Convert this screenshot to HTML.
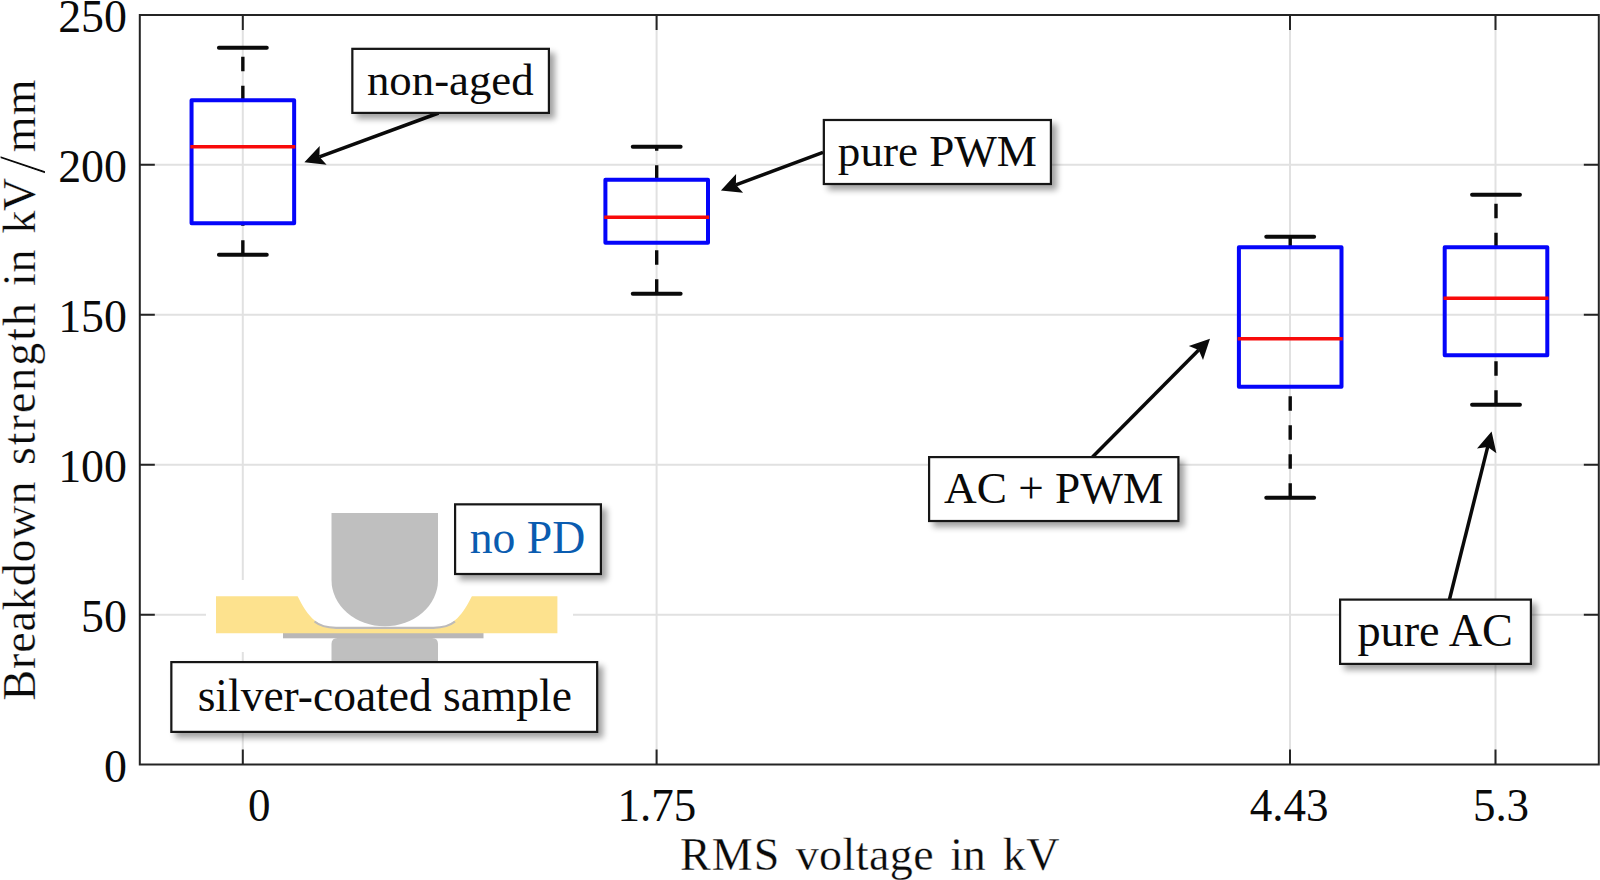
<!DOCTYPE html>
<html lang="en"><head><meta charset="utf-8"><title>Breakdown strength box plot</title>
<style>
html,body{margin:0;padding:0;background:#fff;}
body{width:1600px;height:880px;overflow:hidden;position:relative;}
svg{position:absolute;left:0;top:0;display:block;}
text{font-family:"Liberation Serif",serif;fill:#0a0a0a;}
.tick{font-size:45px;}
.lab{font-size:46px;}
.ax{font-size:46px;stroke:#fff;stroke-width:0.3px;}
.grid{stroke:#e1e1e1;stroke-width:2;fill:none;}
.axis{stroke:#242424;stroke-width:2;fill:none;}
.box{stroke:#0505fa;stroke-width:4;fill:none;stroke-linejoin:round;}
.med{stroke:#f80a0a;stroke-width:3.5;fill:none;}
.wh{stroke:#0a0a0a;stroke-width:3.4;fill:none;}
.cap{stroke:#0a0a0a;stroke-width:3.8;fill:none;stroke-linecap:round;}
.arr{stroke:#0a0a0a;stroke-width:3.5;fill:none;}
.ah{fill:#0a0a0a;stroke:none;}
.tb{fill:#fff;stroke:#141414;stroke-width:2.2;}
</style></head><body>
<svg width="1600" height="880" viewBox="0 0 1600 880">
<defs><filter id="sh" x="-10%" y="-20%" width="125%" height="150%"><feGaussianBlur in="SourceAlpha" stdDeviation="3.3"/><feOffset dx="4.8" dy="4.8"/><feComponentTransfer><feFuncA type="linear" slope="0.37"/></feComponentTransfer><feMerge><feMergeNode/><feMergeNode in="SourceGraphic"/></feMerge></filter></defs>
<rect x="0" y="0" width="1600" height="880" fill="#fff"/>
<line class="grid" x1="139.8" x2="1598.8" y1="614.75" y2="614.75"/>
<line class="grid" x1="139.8" x2="1598.8" y1="464.75" y2="464.75"/>
<line class="grid" x1="139.8" x2="1598.8" y1="314.75" y2="314.75"/>
<line class="grid" x1="139.8" x2="1598.8" y1="164.75" y2="164.75"/>
<line class="grid" x1="242.8" x2="242.8" y1="15" y2="764.5"/>
<line class="grid" x1="656.6" x2="656.6" y1="15" y2="764.5"/>
<line class="grid" x1="1290.0" x2="1290.0" y1="15" y2="764.5"/>
<line class="grid" x1="1495.5" x2="1495.5" y1="15" y2="764.5"/>
<line class="wh" x1="242.85" x2="242.85" y1="100.25" y2="47.75" stroke-dasharray="14.5 14.5"/>
<line class="wh" x1="242.85" x2="242.85" y1="254.75" y2="223.25" stroke-dasharray="14.5 14.5"/>
<line class="cap" x1="218.85" x2="266.85" y1="47.75" y2="47.75"/>
<line class="cap" x1="218.85" x2="266.85" y1="254.75" y2="254.75"/>
<rect class="box" x="191.55" y="100.25" width="102.6" height="123.0"/>
<line class="med" x1="190.35" x2="295.35" y1="146.75" y2="146.75"/>
<line class="wh" x1="656.7" x2="656.7" y1="179.75" y2="146.75" stroke-dasharray="14.5 14.5"/>
<line class="wh" x1="656.7" x2="656.7" y1="293.75" y2="242.75" stroke-dasharray="14.5 14.5"/>
<line class="cap" x1="632.7" x2="680.7" y1="146.75" y2="146.75"/>
<line class="cap" x1="632.7" x2="680.7" y1="293.75" y2="293.75"/>
<rect class="box" x="605.40" y="179.75" width="102.6" height="63.0"/>
<line class="med" x1="604.20" x2="709.20" y1="217.25" y2="217.25"/>
<line class="wh" x1="1290.2" x2="1290.2" y1="247.25" y2="236.75" stroke-dasharray="14.5 14.5"/>
<line class="wh" x1="1290.2" x2="1290.2" y1="497.75" y2="386.75" stroke-dasharray="14.5 14.5"/>
<line class="cap" x1="1266.2" x2="1314.2" y1="236.75" y2="236.75"/>
<line class="cap" x1="1266.2" x2="1314.2" y1="497.75" y2="497.75"/>
<rect class="box" x="1238.90" y="247.25" width="102.6" height="139.5"/>
<line class="med" x1="1237.70" x2="1342.70" y1="338.75" y2="338.75"/>
<line class="wh" x1="1496" x2="1496" y1="247.25" y2="194.75" stroke-dasharray="14.5 14.5"/>
<line class="wh" x1="1496" x2="1496" y1="404.75" y2="355.25" stroke-dasharray="14.5 14.5"/>
<line class="cap" x1="1472.0" x2="1520.0" y1="194.75" y2="194.75"/>
<line class="cap" x1="1472.0" x2="1520.0" y1="404.75" y2="404.75"/>
<rect class="box" x="1444.70" y="247.25" width="102.6" height="108.0"/>
<line class="med" x1="1443.50" x2="1548.50" y1="298.25" y2="298.25"/>
<rect class="axis" x="139.8" y="15" width="1459.0" height="749.5"/>
<line class="axis" x1="139.8" x2="154.8" y1="614.75" y2="614.75"/>
<line class="axis" x1="1598.8" x2="1583.8" y1="614.75" y2="614.75"/>
<line class="axis" x1="139.8" x2="154.8" y1="464.75" y2="464.75"/>
<line class="axis" x1="1598.8" x2="1583.8" y1="464.75" y2="464.75"/>
<line class="axis" x1="139.8" x2="154.8" y1="314.75" y2="314.75"/>
<line class="axis" x1="1598.8" x2="1583.8" y1="314.75" y2="314.75"/>
<line class="axis" x1="139.8" x2="154.8" y1="164.75" y2="164.75"/>
<line class="axis" x1="1598.8" x2="1583.8" y1="164.75" y2="164.75"/>
<line class="axis" x1="242.8" x2="242.8" y1="764.5" y2="749.5"/>
<line class="axis" x1="242.8" x2="242.8" y1="15" y2="30"/>
<line class="axis" x1="656.6" x2="656.6" y1="764.5" y2="749.5"/>
<line class="axis" x1="656.6" x2="656.6" y1="15" y2="30"/>
<line class="axis" x1="1290.0" x2="1290.0" y1="764.5" y2="749.5"/>
<line class="axis" x1="1290.0" x2="1290.0" y1="15" y2="30"/>
<line class="axis" x1="1495.5" x2="1495.5" y1="764.5" y2="749.5"/>
<line class="axis" x1="1495.5" x2="1495.5" y1="15" y2="30"/>
<text class="tick" transform="translate(127,782.05) scale(1.02,1.05)" text-anchor="end">0</text>
<text class="tick" transform="translate(127,632.05) scale(1.02,1.05)" text-anchor="end">50</text>
<text class="tick" transform="translate(127,482.05) scale(1.02,1.05)" text-anchor="end">100</text>
<text class="tick" transform="translate(127,332.05) scale(1.02,1.05)" text-anchor="end">150</text>
<text class="tick" transform="translate(127,182.05) scale(1.02,1.05)" text-anchor="end">200</text>
<text class="tick" transform="translate(127,32.05) scale(1.02,1.05)" text-anchor="end">250</text>
<text class="tick" transform="translate(259.3,821.2) scale(1.0,1.05)" text-anchor="middle">0</text>
<text class="tick" transform="translate(656.9,821.2) scale(1.0,1.05)" text-anchor="middle">1.75</text>
<text class="tick" transform="translate(1289.1,821.2) scale(1.0,1.05)" text-anchor="middle">4.43</text>
<text class="tick" transform="translate(1501,821.2) scale(1.0,1.05)" text-anchor="middle">5.3</text>
<text class="ax" xml:space="preserve"><tspan x="679.95" y="869.5" style="letter-spacing:1.12px">RMS </tspan><tspan x="795.7" y="869.5" style="letter-spacing:0.43px">voltage </tspan><tspan x="950.3" y="869.5" style="letter-spacing:-0.4px">in </tspan><tspan x="1002.7" y="869.5" style="letter-spacing:0.6px">kV</tspan></text>
<text class="ax" xml:space="preserve" transform="translate(35,390.5) rotate(-90)"><tspan x="-310.1" y="0" style="letter-spacing:0.88px;">Breakdown </tspan><tspan x="-74.55" y="0" style="letter-spacing:1.98px;">strength </tspan><tspan x="104.5" y="0" style="letter-spacing:0.8px;">in </tspan><tspan x="157.1" y="0" style="letter-spacing:-0.8px;">kV</tspan><tspan x="216.4" y="9" style="letter-spacing:0px;font-size:67px;stroke-width:1.1px;">/</tspan><tspan x="238.3" y="0" style="letter-spacing:1.1px;">mm</tspan></text>
<g id="sketch">
<rect x="206" y="580" width="367" height="72" fill="#fff"/>
<path d="M331.5 513 H438 V580 A53.25 46.3 0 0 1 331.5 580 Z" fill="#bfbfbf"/>
<path d="M331.5 664 V644 Q331.5 638 337.5 638 H432 Q438 638 438 644 V664 Z" fill="#bfbfbf"/>
<rect x="283" y="633" width="200.5" height="5.3" fill="#b9b7b7"/>
<path d="M216 596.2 H297.6 C304 608 312 626 334 628.3 H435.5 C457.5 626 465.5 608 471.9 596.2 H557.4 V633.3 H216 Z" fill="#fde28e"/>
<path d="M314.5 621.5 C320 626 326 627.6 336 627.8 H433.5 C443.5 627.6 449.5 626 455 621.5" fill="none" stroke="#bcbaba" stroke-width="2.2"/>
</g>
<line class="arr" x1="438.6" y1="113.0" x2="319.4" y2="156.8"/><path class="ah" d="M304.4 162.3 L319.7 146.0 L319.4 156.8 L326.6 164.8 Z"/>
<line class="arr" x1="823.0" y1="152.3" x2="735.9" y2="184.8"/><path class="ah" d="M720.9 190.4 L736.1 174.0 L735.9 184.8 L743.1 192.8 Z"/>
<line class="arr" x1="1092.5" y1="457.0" x2="1198.7" y2="350.1"/><path class="ah" d="M1210.0 338.8 L1203.0 360.0 L1198.7 350.1 L1188.8 345.9 Z"/>
<line class="arr" x1="1449.3" y1="600.0" x2="1487.7" y2="446.9"/><path class="ah" d="M1491.6 431.4 L1496.4 453.2 L1487.7 446.9 L1477.0 448.4 Z"/>
<g filter="url(#sh)"><rect class="tb" x="352.35" y="48.85" width="196.55" height="64.05"/></g><text class="lab" x="450.3" y="94.5" text-anchor="middle" style="font-size:44.8px;">non-aged</text>
<g filter="url(#sh)"><rect class="tb" x="823.85" y="120.00" width="227.05" height="64.00"/></g><text class="lab" x="937.4" y="165.6" text-anchor="middle" style="font-size:45.1px;">pure PWM</text>
<g filter="url(#sh)"><rect class="tb" x="929.10" y="457.10" width="249.30" height="63.90"/></g><text class="lab" x="1053.6" y="503.2" text-anchor="middle" style="font-size:45.3px;">AC + PWM</text>
<g filter="url(#sh)"><rect class="tb" x="1340.10" y="599.60" width="190.80" height="64.30"/></g><text class="lab" x="1435.2" y="645.6" text-anchor="middle" style="font-size:46.3px;">pure AC</text>
<g filter="url(#sh)"><rect class="tb" x="455.10" y="504.35" width="145.80" height="69.65"/></g><text class="lab" x="527.5" y="552.7" text-anchor="middle" style="font-size:45.7px;fill:#0a5cb0;">no PD</text>
<g filter="url(#sh)"><rect class="tb" x="171.35" y="662.10" width="425.80" height="69.80"/></g><text class="lab" x="384.8" y="710.6" text-anchor="middle" style="font-size:45.5px;">silver-coated sample</text>
</svg></body></html>
